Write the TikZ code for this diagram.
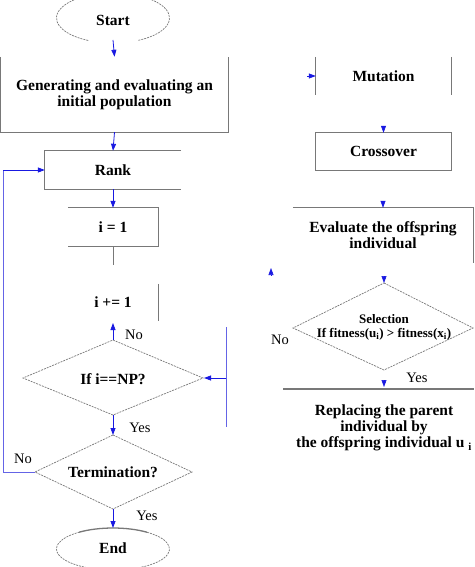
\documentclass[tikz,border=0pt]{standalone}
\usepackage{fontspec}
\setmainfont{Liberation Serif}
\usetikzlibrary{arrows.meta}
\definecolor{edgegrey}{RGB}{120,120,120}
\definecolor{flowblue}{RGB}{25,25,225}
\definecolor{loopblue}{RGB}{100,100,230}
\begin{document}
\begin{tikzpicture}[x=1pt,y=-1pt,
  txt/.style={font=\fontsize{15.5}{16}\selectfont\bfseries, align=center, inner sep=0pt},
  smalltxt/.style={font=\fontsize{13}{14}\selectfont\bfseries, align=center, inner sep=0pt},
  lbl/.style={font=\fontsize{14.5}{16}\selectfont, inner sep=0pt},
  boxedge/.style={draw=edgegrey, line width=1.1pt},
  dashedge/.style={draw=edgegrey, line width=0.7pt, dash pattern=on 2pt off 1pt},
  flowarr/.style={draw=flowblue, line width=0.8pt, -{Triangle[length=7pt,width=5pt]}},
  tiparr/.style={draw=flowblue, line width=0.6pt, -{Triangle[length=7pt,width=5pt]}},
  loopline/.style={draw=loopblue, line width=1pt},
]
\useasboundingbox (0,0) rectangle (474,567);

% ---------- left column ----------
% Start oval
\node[txt] (start) at (113,20) {Start};
\draw[dashedge] (113,18) ++(116:56.5 and 25) arc[start angle=116, end angle=424, x radius=56.5, y radius=25];
\coordinate (startB) at (113,40);

% Generating box
\node[txt, minimum width=227pt, minimum height=75pt] (gen) at (114.5,94.5) {Generating and evaluating an\\initial population};
\draw[boxedge] (gen.north west) -- (gen.south west) -- (gen.south east) -- (gen.north east);

% Rank box
\node[txt, minimum width=136pt, minimum height=38pt] (rank) at (113,170) {Rank};
\draw[boxedge] (rank.north east) -- (rank.north west) -- (rank.south west) -- (rank.south east);

% i = 1 box
\node[txt, minimum width=90pt, minimum height=38pt] (one) at (113,227) {i = 1};
\draw[boxedge] (one.north west) -- (one.north east) -- (one.south east) -- (one.south west);
\coordinate (oneGap) at (113,265);

% i += 1
\node[txt, minimum width=90pt, minimum height=37pt] (inc) at (113,302.5) {i += 1};
\draw[boxedge] (inc.north east) -- (inc.south east);
\coordinate (incTip) at (113,323);

% If i==NP? diamond
\coordinate (cT) at (113,340);
\coordinate (cR) at (203,378);
\coordinate (cB) at (113,415);
\coordinate (cL) at (23,378);
\draw[dashedge] (cT) -- (cR) -- (cB) -- (cL) -- cycle;
\node[txt] (cond) at (113,379) {If i==NP?};

% Termination diamond
\coordinate (tT) at (113,435);
\coordinate (tR) at (192,472);
\coordinate (tB) at (113,509);
\coordinate (tL) at (35,472);
\draw[dashedge] (tT) -- (tR) -- (tB) -- (tL) -- cycle;
\node[txt] (term) at (113,472) {Termination?};

% End oval
\node[txt] (endn) at (113,548) {End};
\draw[dashedge] (113,549) ++(307:56.5 and 21) arc[start angle=307, end angle=593, x radius=56.5, y radius=21];
\draw[draw=edgegrey, line width=1.3pt] (113,549) ++(233:56.5 and 21) arc[start angle=233, end angle=307, x radius=56.5, y radius=21];
\coordinate (endT) at (113,528);

% left connectors
\draw[flowarr] (startB) -- (gen.north);
\draw[flowarr] (gen.south) -- (rank.north);
\draw[flowarr] (rank.south) -- (one.north);
\draw[boxedge, line width=0.9pt] (one.south) -- (oneGap);
\draw[flowarr] (cT) -- (incTip);
\draw[flowarr] (cB) -- (tT);
\draw[flowarr] (tB) -- (endT);
\coordinate (lp1) at (3,472);
\coordinate (lp2) at (3,170);
\draw[loopline] (tL) -- (lp1) -- (lp2);
\draw[flowarr] (lp2) -- (rank.west);
\coordinate (rv1) at (226,327);
\coordinate (rv2) at (226,427);
\coordinate (rvm) at (226,378);
\draw[loopline] (rv1) -- (rv2);
\draw[flowarr, shorten >=1pt] (rvm) -- (cR);

\node[lbl] (noA) at (134,335) {No};
\node[lbl] (yesA) at (140,428) {Yes};
\node[lbl] (noB) at (23,459) {No};
\node[lbl] (yesB) at (147,516) {Yes};

% ---------- right column ----------
\node[txt, minimum width=135pt, minimum height=38pt] (mut) at (383.5,76) {Mutation};
\draw[boxedge] (mut.north west) -- (mut.south west);
\draw[boxedge] (mut.north east) -- (mut.south east);
\coordinate (mutIn) at (307,76);
\draw[tiparr] (mutIn) -- (mut.west);

\node[txt, minimum width=135pt, minimum height=37pt] (cross) at (383.5,151.5) {Crossover};
\draw[boxedge] (cross.north west) rectangle (cross.south east);
\coordinate (crossIn) at (383.5,126);
\draw[tiparr] (crossIn) -- (cross.north);

\node[txt, minimum width=180pt, minimum height=55pt] (eval) at (383,235.5) {Evaluate the offspring\\individual};
\draw[boxedge] (eval.north west) -- (eval.north east) -- (eval.south east);
\coordinate (evalIn) at (383,201);
\draw[tiparr] (evalIn) -- (eval.north);

\coordinate (upA) at (271,275);
\coordinate (upB) at (271,268);
\draw[tiparr] (upA) -- (upB);

% Selection diamond
\coordinate (sT) at (384,283);
\coordinate (sR) at (473,328);
\coordinate (sB) at (384,370);
\coordinate (sL) at (293,328);
\draw[dashedge] (sT) -- (sR) -- (sB) -- (sL) -- cycle;
\node[smalltxt] (sel) at (384,327) {Selection\\If fitness(u\textsubscript{i}) > fitness(x\textsubscript{i})};
\coordinate (selIn) at (384,276);
\draw[tiparr] (selIn) -- (sT);

\coordinate (selOut) at (384,380);
\coordinate (repTop) at (384,387);
\draw[tiparr] (selOut) -- (repTop);

\coordinate (repL) at (283,389);
\coordinate (repR) at (474,389);
\draw[boxedge] (repL) -- (repR);
\node[txt] (rep) at (384,428) {Replacing the parent\\individual by\\the offspring individual u \textsubscript{i}};

\node[lbl] (noC) at (280,340) {No};
\node[lbl] (yesC) at (417,378) {Yes};
\end{tikzpicture}
\end{document}
